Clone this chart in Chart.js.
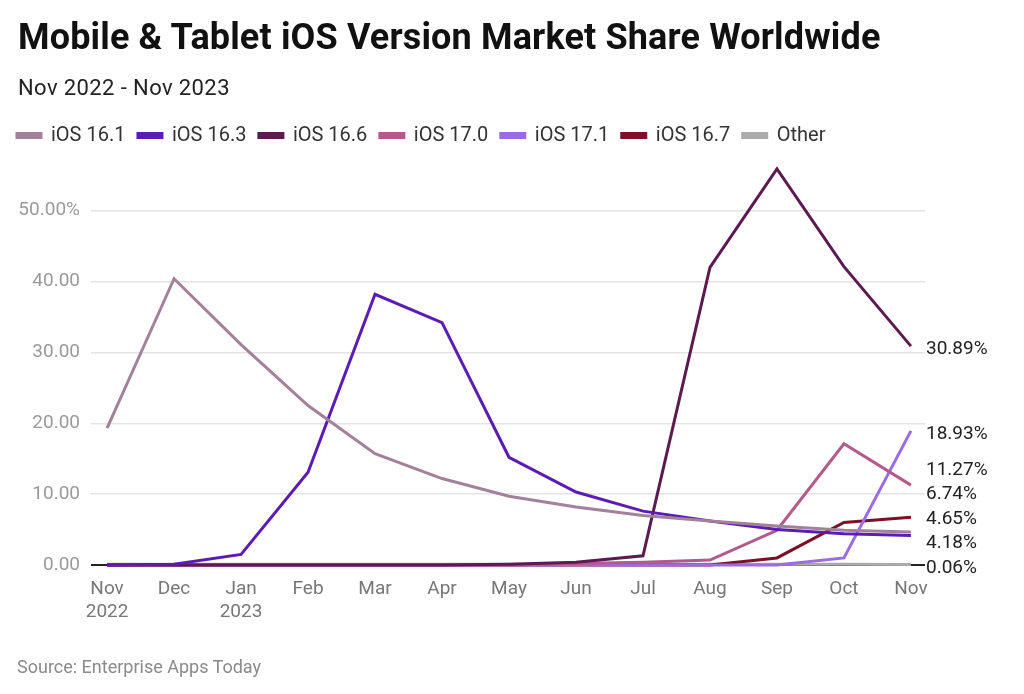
<!DOCTYPE html>
<html>
<head>
<meta charset="utf-8">
<script src="https://cdn.jsdelivr.net/npm/chart.js@4"></script>
<style>
  html, body { margin: 0; padding: 0; background: #fff; }
  #wrap { position: relative; width: 1024px; height: 694px; overflow: hidden; font-family: Roboto, "Noto Sans", sans-serif; }
  #c { position: absolute; left: 0; top: 0; }
  .t { position: absolute; left: 18px; white-space: nowrap; line-height: normal; }
  #title { top: 16px; font-size: 36px; font-weight: 700; color: #111; letter-spacing: 0.15px; }
  #sub { top: 74.5px; font-size: 22px; color: #222; letter-spacing: 0.4px; }
  #src { top: 656px; font-size: 18px; color: #8a8a8a; left: 17px; }
</style>
</head>
<body>
<div id="wrap">
  <canvas id="c" width="1024" height="694"></canvas>
  <div class="t" id="title">Mobile &amp; Tablet iOS Version Market Share Worldwide</div>
  <div class="t" id="sub">Nov 2022 - Nov 2023</div>
  <div class="t" id="src">Source: Enterprise Apps Today</div>
</div>
<script>
const xLabels = [['Nov','2022'],'Dec',['Jan','2023'],'Feb','Mar','Apr','May','Jun','Jul','Aug','Sep','Oct','Nov'];
const seriesNames = ['iOS 16.1','iOS 16.3','iOS 16.6','iOS 17.0','iOS 17.1','iOS 16.7','Other'];
const ios161 = [19.3, 40.4, 31.1, 22.5, 15.7, 12.2, 9.7, 8.2, 7.0, 6.2, 5.5, 4.9, 4.65];
const ios163 = [0.0, 0.1, 1.5, 13.1, 38.2, 34.2, 15.2, 10.3, 7.6, 6.2, 5.0, 4.4, 4.18];
const ios166 = [0.0, 0.0, 0.0, 0.0, 0.0, 0.0, 0.1, 0.4, 1.3, 42.0, 55.9, 42.1, 30.89];
const ios170 = [0.0, 0.0, 0.0, 0.0, 0.0, 0.0, 0.0, 0.2, 0.4, 0.7, 4.9, 17.1, 11.27];
const ios171 = [0.0, 0.0, 0.0, 0.0, 0.0, 0.0, 0.0, 0.0, 0.0, 0.0, 0.0, 1.0, 18.93];
const ios167 = [0.0, 0.0, 0.0, 0.0, 0.0, 0.0, 0.0, 0.0, 0.0, 0.0, 1.0, 6.0, 6.74];
const other  = [0.1, 0.1, 0.1, 0.1, 0.1, 0.1, 0.1, 0.1, 0.1, 0.1, 0.1, 0.1, 0.06];
const yTicks = [0, 10, 20, 30, 40, 50];

const seriesValues = [ios161, ios163, ios166, ios170, ios171, ios167, other];
const seriesColors = ['#a3819a', '#5a1cb2', '#5b1a50', '#b3598c', '#9a6be3', '#7d0f26', '#ababab'];

const datasets = seriesNames.map((name, k) => ({
  label: name,
  data: seriesValues[k].map((v, i) => ({ x: i, y: v })),
  borderColor: seriesColors[k],
  backgroundColor: seriesColors[k],
  borderWidth: 3,
  pointRadius: 0,
  pointHoverRadius: 0,
  tension: 0,
  clip: false
}));

const endLabels = {
  id: 'endLabels',
  afterDatasetsDraw(chart) {
    const ctx = chart.ctx;
    const yScale = chart.scales.y;
    const items = chart.data.datasets.map((ds, k) => {
      const meta = chart.getDatasetMeta(k);
      const pt = meta.data[meta.data.length - 1];
      const v = ds.data[ds.data.length - 1].y;
      return { text: v.toFixed(2) + '%', y: pt.y + 3 };
    }).sort((a, b) => a.y - b.y);
    const gap = 24.5;
    for (let i = 1; i < items.length; i++) items[i].y = Math.max(items[i].y, items[i - 1].y + gap);
    const limit = yScale.getPixelForValue(0) + 3;
    items[items.length - 1].y = Math.min(items[items.length - 1].y, limit);
    for (let i = items.length - 2; i >= 0; i--) items[i].y = Math.min(items[i].y, items[i + 1].y - gap);
    ctx.save();
    ctx.font = '19px Roboto';
    ctx.fillStyle = '#222';
    ctx.textBaseline = 'middle';
    ctx.textAlign = 'left';
    const x = chart.chartArea.right + 1;
    items.forEach(it => ctx.fillText(it.text, x, it.y));
    ctx.restore();
  }
};

const legendFit = {
  id: 'legendFit',
  beforeInit(chart) {
    const orig = chart.legend.fit;
    chart.legend.fit = function () {
      orig.call(this);
      this.height = 41;
    };
  }
};

new Chart(document.getElementById('c'), {
  type: 'line',
  data: { datasets },
  plugins: [endLabels, legendFit],
  options: {
    responsive: false,
    animation: false,
    devicePixelRatio: 1,
    layout: { padding: { left: 4.5, right: 99, top: 113, bottom: 0 } },
    plugins: {
      legend: {
        position: 'top',
        align: 'start',
        labels: {
          boxWidth: 24,
          boxHeight: 4,
          padding: 12.5,
          color: '#333',
          font: { family: 'Roboto', size: 20 }
        }
      },
      tooltip: { enabled: false },
      title: { display: false }
    },
    scales: {
      x: {
        type: 'linear',
        min: -0.24,
        max: 12.21,
        afterBuildTicks(scale) { scale.ticks = xLabels.map((_, i) => ({ value: i })); },
        afterFit(scale) { scale.height = 129; },
        grid: { display: false, drawTicks: false },
        border: { display: false },
        ticks: {
          autoSkip: false,
          maxRotation: 0,
          padding: 13,
          color: '#777',
          font: { family: 'Roboto', size: 19, lineHeight: 1.2 },
          callback: (v) => xLabels[v]
        }
      },
      y: {
        min: 0,
        max: 58,
        afterBuildTicks(scale) { scale.ticks = yTicks.map(v => ({ value: v })); },
        afterFit(scale) { scale.width = 86.5; },
        grid: {
          drawTicks: false,
          color: (c) => c.tick && c.tick.value === 0 ? '#222' : '#e4e4e4',
          lineWidth: (c) => c.tick && c.tick.value === 0 ? 2 : 1.5
        },
        border: { display: false },
        ticks: {
          padding: 11,
          color: '#9a9a9a',
          font: { family: 'Roboto', size: 19 },
          callback: (v) => v === 50 ? '50.00%' : v.toFixed(2)
        }
      }
    }
  }
});
</script>
</body>
</html>
